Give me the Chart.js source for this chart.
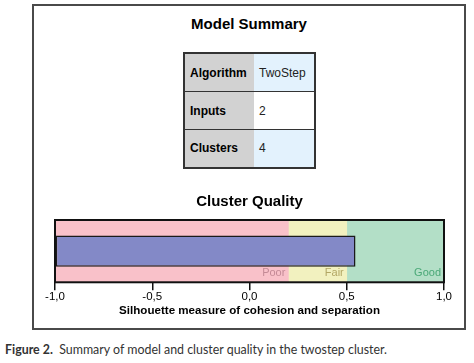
<!DOCTYPE html>
<html lang="en">
<head>
<meta charset="UTF-8">
<title>Model Summary</title>
<script src="https://cdn.jsdelivr.net/npm/chart.js"></script>
<style>
  body { margin: 0; background: #fff; width: 474px; height: 363px; position: relative; overflow: hidden; font-family: Arial, "Liberation Sans", sans-serif; }
  .frame { position: absolute; left: 32px; top: 4px; width: 430px; height: 322px; border: 2px solid #4a4a4a; }
  .title1 { position: absolute; left: 32px; width: 434px; top: 15px; text-align: center; font-weight: bold; font-size: 15px; color: #000; }
  table { position: absolute; left: 183px; top: 52px; width: 133px; height: 117px; border-collapse: collapse; border: 2px solid #333; font-size: 12px; }
  td { border-top: 1px solid #333; padding: 0 0 0 5px; }
  td.k { background: #d2d2d2; font-weight: bold; width: 64px; }
  td.v { background: #e3f2fd; color: #222; }
  td.w { background: #fff; }
  .wrap { position: absolute; left: 33px; top: 190px; width: 431px; height: 130px; }
  .caption { position: absolute; left: 5px; top: 342px; font-family: Lato, "Open Sans", sans-serif; font-size: 12.4px; color: #333; }
</style>
</head>
<body>
<div class="frame"></div>
<div class="title1">Model Summary</div>
<table>
  <tr><td class="k">Algorithm</td><td class="v">TwoStep</td></tr>
  <tr><td class="k">Inputs</td><td class="v w">2</td></tr>
  <tr><td class="k">Clusters</td><td class="v">4</td></tr>
</table>
<div class="wrap"><canvas id="quality"></canvas></div>
<div class="caption"><b>Figure 2.</b>&nbsp; Summary of model and cluster quality in the twostep cluster.</div>

<script>
const categories = ['Silhouette'];
const silhouette = [0.545];
const bandNames = ['Poor', 'Fair', 'Good'];
const bandRanges = [[-1, 0.2], [0.2, 0.5], [0.5, 1]];
const bandColors = ['#f9c1c9', '#f2f1bf', '#b3dfc7'];
const bandText = ['#c48a96', '#b3a765', '#4aa877'];

// frame round the plot and the Poor/Fair/Good words
const extras = {
  id: 'extras',
  afterDatasetsDraw(chart) {
    const c = chart.ctx, a = chart.chartArea, x = chart.scales.x;
    c.save();
    c.font = '11px Arial';
    c.textAlign = 'right';
    c.textBaseline = 'middle';
    bandRanges.forEach((r, i) => {
      c.fillStyle = bandText[i];
      c.fillText(bandNames[i], x.getPixelForValue(r[1]) - 3, a.bottom - 9);
    });
    c.strokeStyle = '#111';
    c.lineWidth = 2;
    c.strokeRect(a.left, a.top, a.right - a.left, a.bottom - a.top);
    c.restore();
  }
};

const bandSets = bandRanges.map((r, i) => ({
  data: [r],
  backgroundColor: bandColors[i],
  borderWidth: 0,
  barPercentage: 1,
  categoryPercentage: 1,
  grouped: false,
  order: 2
}));

new Chart(document.getElementById('quality'), {
  type: 'bar',
  data: {
    labels: categories,
    datasets: [{
      data: silhouette,
      backgroundColor: '#8389c7',
      borderColor: '#1a1a1a',
      borderWidth: 1.5,
      borderSkipped: false,
      barPercentage: 0.5,
      categoryPercentage: 1,
      grouped: false,
      base: -1,
      order: 1
    }, ...bandSets]
  },
  options: {
    indexAxis: 'y',
    responsive: true,
    maintainAspectRatio: false,
    animation: false,
    layout: { padding: { left: 22, right: 20, bottom: 2 } },
    plugins: {
      legend: { display: false },
      tooltip: { enabled: false },
      title: {
        display: true,
        text: 'Cluster Quality',
        color: '#000',
        font: { family: 'Arial', size: 15, weight: 'bold' },
        padding: { top: 3, bottom: 9 }
      }
    },
    scales: {
      y: { display: false },
      x: {
        min: -1,
        max: 1,
        grid: { drawOnChartArea: false, tickLength: 8, color: '#111', lineWidth: 1.5 },
        border: { color: '#111', width: 2 },
        ticks: {
          stepSize: 0.5,
          padding: 0,
          color: '#000',
          font: { family: 'Arial', size: 11.5 },
          callback: v => v.toFixed(1).replace('.', ',')
        },
        title: {
          display: true,
          text: 'Silhouette measure of cohesion and separation',
          color: '#000',
          font: { family: 'Arial', size: 11.6, weight: 'bold' },
          padding: 0
        }
      }
    }
  },
  plugins: [extras]
});
</script>
</body>
</html>
